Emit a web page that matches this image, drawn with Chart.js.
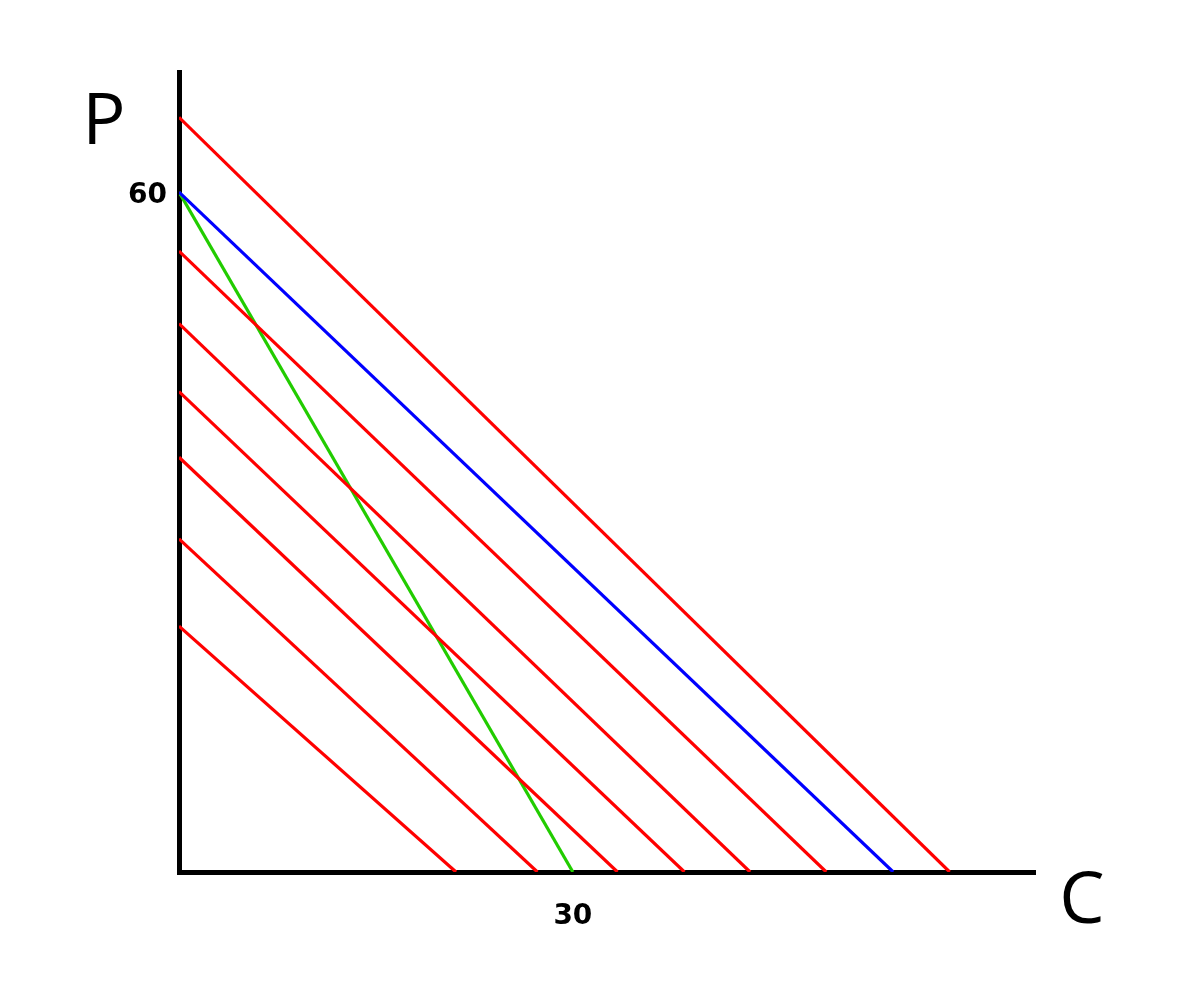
<!DOCTYPE html>
<html>
<head>
<meta charset="utf-8">
<script src="https://cdn.jsdelivr.net/npm/chart.js@4/dist/chart.umd.min.js"></script>
<style>
html,body{margin:0;padding:0;background:#fff;}
#wrap{width:1200px;height:985px;position:relative;}
</style>
</head>
<body>
<div id="wrap"><canvas id="c" width="1200" height="985"></canvas></div>
<script>
// Axis names and tick labels
const xAxisName = "C";
const yAxisName = "P";
const xTickValues = [30];
const yTickValues = [60];

// Budget / iso lines: [P-intercept, C-intercept]
const greenLine = [60, 30];
const blueLine = [60, 54.4];
const redP = [66.6, 54.8, 48.4, 42.4, 36.6, 29.4, 21.7];
const redC = [58.7, 49.3, 43.5, 38.5, 33.4, 27.3, 21.1];

function seg(p, c) { return [{x: 0, y: p}, {x: c, y: 0}]; }

const datasets = [];
redP.forEach((p, i) => {
  datasets.push({data: seg(p, redC[i]), borderColor: '#ff0000', borderWidth: 3.2, showLine: true, pointRadius: 0, fill: false});
});
datasets.push({data: seg(blueLine[0], blueLine[1]), borderColor: '#0000ff', borderWidth: 3.2, showLine: true, pointRadius: 0, fill: false});
datasets.push({data: seg(greenLine[0], greenLine[1]), borderColor: '#22cc00', borderWidth: 3.2, showLine: true, pointRadius: 0, fill: false});

const axisNames = {
  id: 'axisNames',
  afterDraw(chart) {
    const ctx = chart.ctx;
    ctx.save();
    ctx.fillStyle = '#000';
    ctx.font = '400 72px "Open Sans"';
    ctx.textAlign = 'center';
    ctx.textBaseline = 'alphabetic';
    ctx.fillText(yAxisName, 104, 144);
    ctx.fillText(xAxisName, 1082, 923);
    ctx.restore();
  }
};

new Chart(document.getElementById('c'), {
  type: 'scatter',
  data: {datasets},
  options: {
    responsive: false,
    animation: false,
    layout: {padding: {top: 72, right: 165, left: 0, bottom: 0}},
    plugins: {legend: {display: false}, tooltip: {enabled: false}},
    scales: {
      x: {
        type: 'linear', min: 0, max: 65.2,
        afterBuildTicks: s => { s.ticks = xTickValues.map(v => ({value: v})); },
        afterFit: s => { s.height = 113; },
        grid: {display: false, drawTicks: true, tickLength: 8},
        border: {display: true, color: '#000', width: 5},
        ticks: {color: '#000', font: {family: '"DejaVu Sans"', size: 28, weight: 'bold'}, padding: 20, maxRotation: 0}
      },
      y: {
        type: 'linear', min: 0, max: 70.6,
        afterBuildTicks: s => { s.ticks = yTickValues.map(v => ({value: v})); },
        afterFit: s => { s.width = 179; },
        grid: {display: false, drawTicks: true, tickLength: 8},
        border: {display: true, color: '#000', width: 5},
        ticks: {color: '#000', font: {family: '"DejaVu Sans"', size: 28, weight: 'bold'}, padding: 4, labelOffset: 4}
      }
    }
  },
  plugins: [axisNames]
});
</script>
</body>
</html>
